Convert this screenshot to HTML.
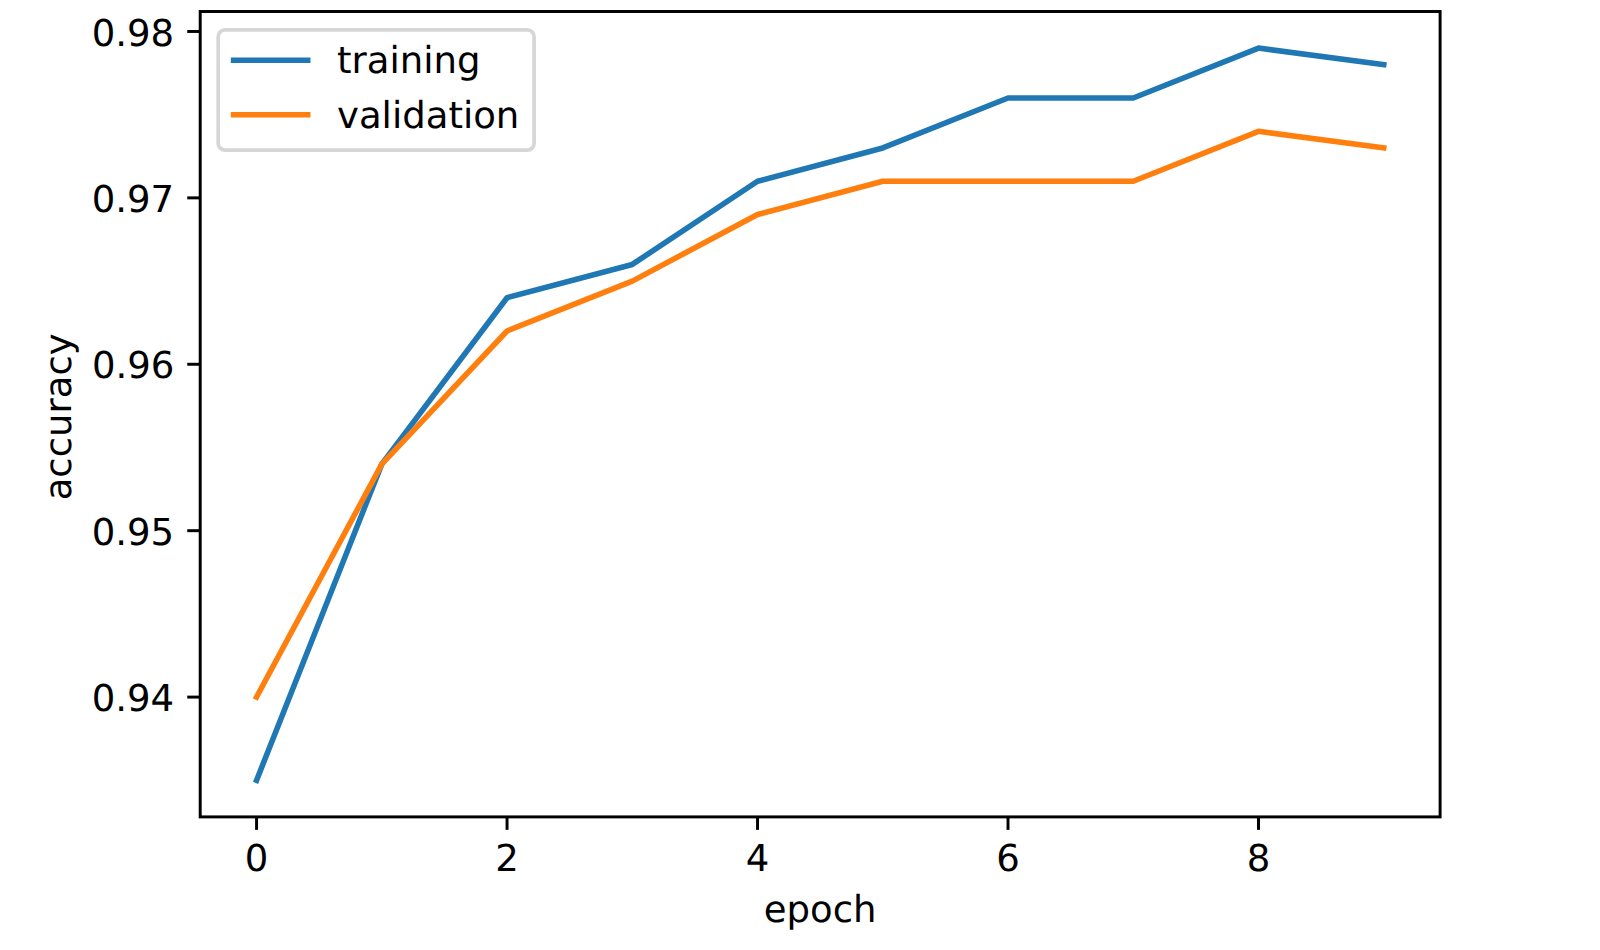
<!DOCTYPE html>
<html lang="en">
<head>
<meta charset="utf-8">
<title>accuracy vs epoch</title>
<style>
html,body{margin:0;padding:0;background:#ffffff;}
body{width:1600px;height:950px;overflow:hidden;}
svg{display:block;}
text{font-family:"DejaVu Sans","Liberation Sans",sans-serif;font-size:37.04px;fill:#000000;text-rendering:geometricPrecision;}
</style>
</head>
<body>
<svg width="1600" height="950" viewBox="0 0 1600 950">
<rect x="0" y="0" width="1600" height="950" fill="#ffffff"/>
<g stroke="#000000" stroke-width="2.96" stroke-linecap="butt">
<line x1="256.56" y1="816.90" x2="256.56" y2="829.86"/>
<line x1="507.04" y1="816.90" x2="507.04" y2="829.86"/>
<line x1="757.53" y1="816.90" x2="757.53" y2="829.86"/>
<line x1="1008.01" y1="816.90" x2="1008.01" y2="829.86"/>
<line x1="1258.50" y1="816.90" x2="1258.50" y2="829.86"/>
<line x1="187.24" y1="697.09" x2="200.20" y2="697.09"/>
<line x1="187.24" y1="530.68" x2="200.20" y2="530.68"/>
<line x1="187.24" y1="364.28" x2="200.20" y2="364.28"/>
<line x1="187.24" y1="197.87" x2="200.20" y2="197.87"/>
<line x1="187.24" y1="31.47" x2="200.20" y2="31.47"/>
</g>
<g text-anchor="middle">
<text x="256.56" y="871.00">0</text>
<text x="507.04" y="871.00">2</text>
<text x="757.53" y="871.00">4</text>
<text x="1008.01" y="871.00">6</text>
<text x="1258.50" y="871.00">8</text>
</g>
<g text-anchor="end">
<text x="174.15" y="711.44">0.94</text>
<text x="174.15" y="545.03">0.95</text>
<text x="174.40" y="378.23">0.96</text>
<text x="174.15" y="212.22">0.97</text>
<text x="174.15" y="45.82">0.98</text>
</g>
<text x="820.15" y="922.30" text-anchor="middle">epoch</text>
<text transform="translate(71.00,416.80) rotate(-90)" text-anchor="middle">accuracy</text>
<g fill="none" stroke-width="5.56" stroke-linecap="square" stroke-linejoin="round">
<polyline stroke="#1f77b4" points="256.56,780.29 381.80,464.12 507.04,297.72 632.29,264.44 757.53,181.23 882.77,147.95 1008.01,98.03 1133.26,98.03 1258.50,48.11 1383.74,64.75"/>
<polyline stroke="#ff7f0e" points="256.56,697.09 381.80,464.12 507.04,331.00 632.29,281.08 757.53,214.51 882.77,181.23 1008.01,181.23 1133.26,181.23 1258.50,131.31 1383.74,147.95"/>
</g>
<rect x="200.20" y="11.50" width="1239.90" height="805.40" fill="none" stroke="#000000" stroke-width="2.96" stroke-linejoin="miter"/>
<rect x="218.20" y="29.90" width="315.90" height="120.30" rx="6.9" ry="6.9" fill="#ffffff" fill-opacity="0.8" stroke="#cccccc" stroke-opacity="0.8" stroke-width="3.7"/>
<g fill="none" stroke-width="5.56" stroke-linecap="square">
<line stroke="#1f77b4" x1="233.60" y1="60.30" x2="307.70" y2="60.30"/>
<line stroke="#ff7f0e" x1="233.60" y1="114.80" x2="307.70" y2="114.80"/>
</g>
<text x="337.00" y="73.10">training</text>
<text x="337.00" y="127.60">validation</text>
</svg>
</body>
</html>
